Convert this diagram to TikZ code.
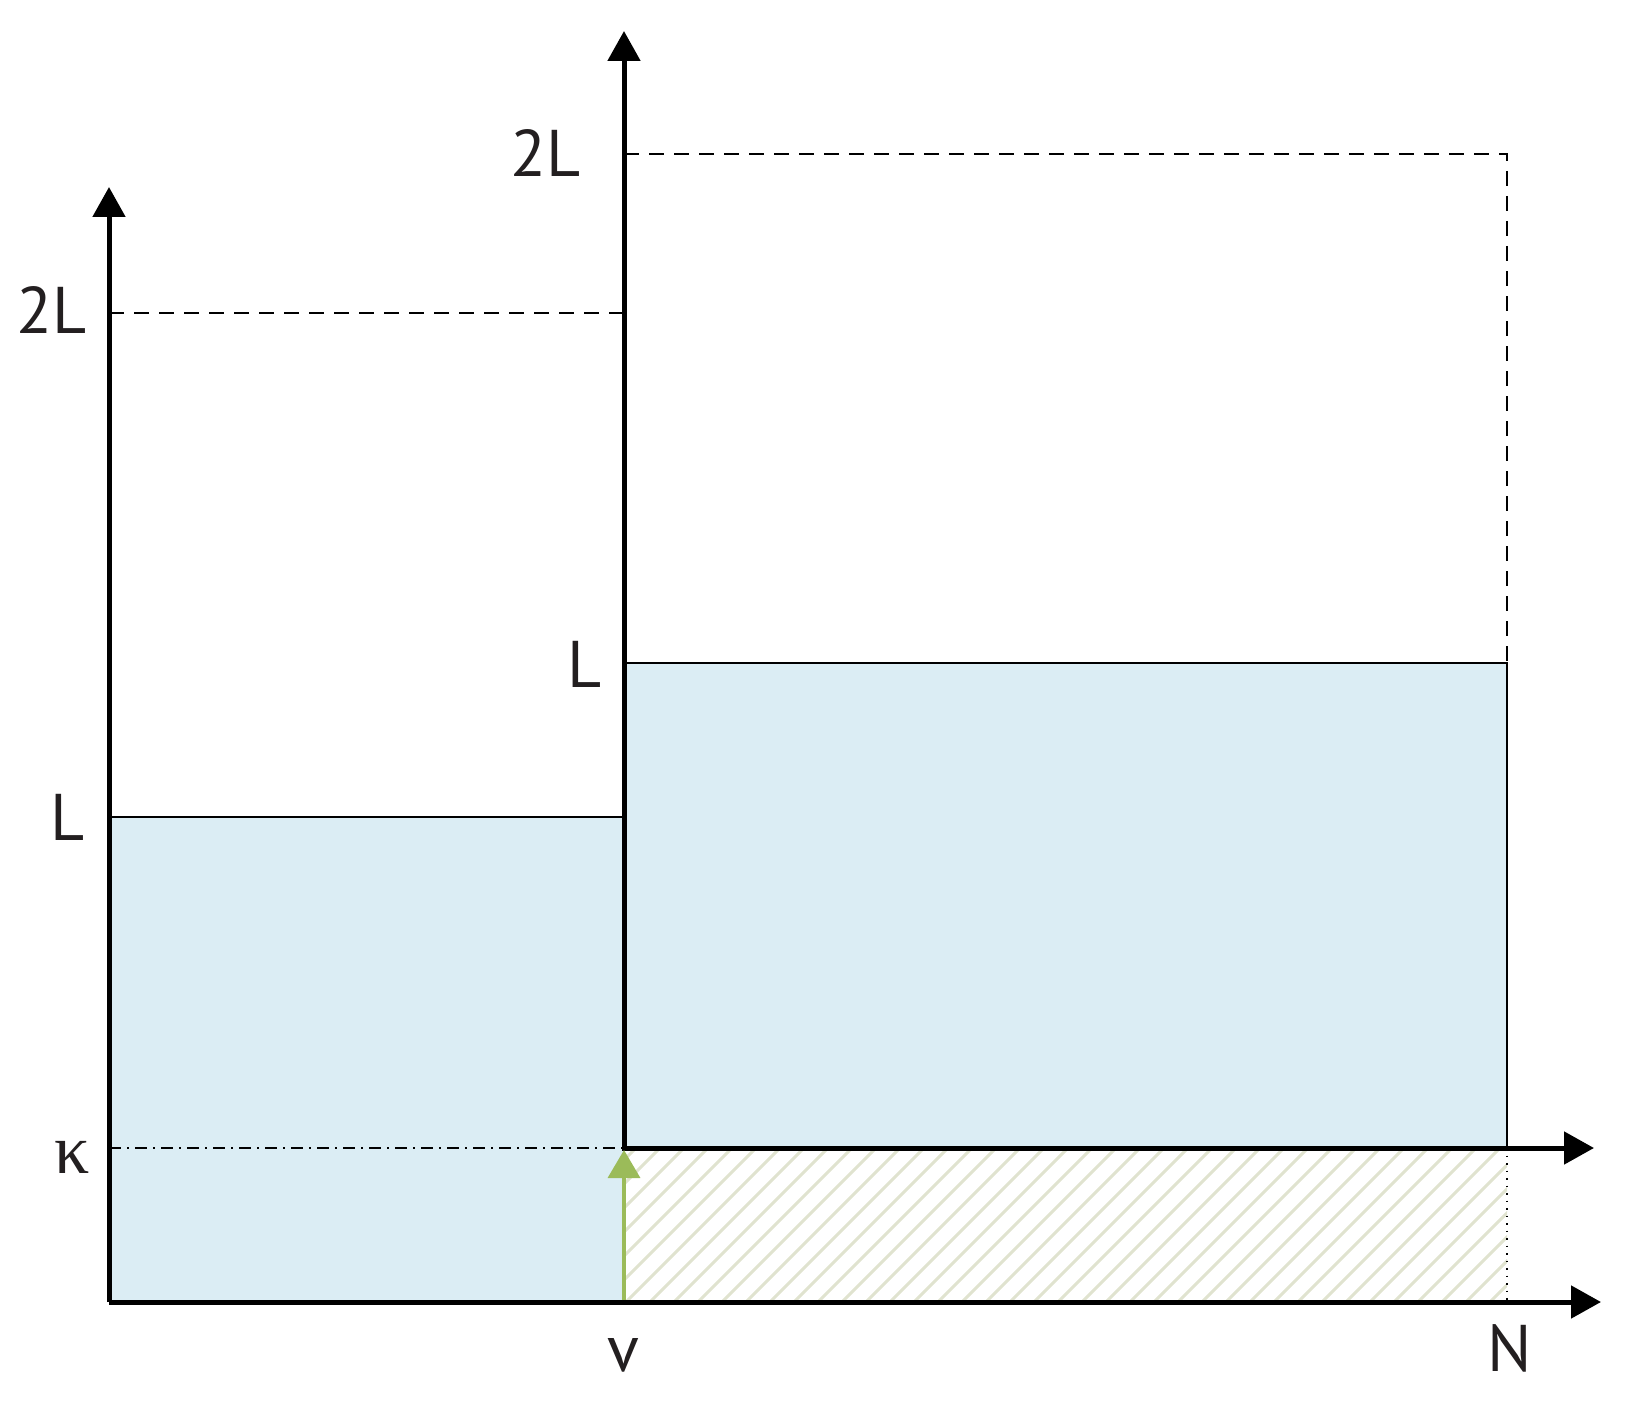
\documentclass[tikz,border=0pt]{standalone}
\usepackage{fontspec}
\setmainfont{PT Sans}
\newfontfamily\greekfont{Liberation Serif}
\usetikzlibrary{arrows.meta}
\definecolor{fillblue}{HTML}{DBEDF4}
\definecolor{hatchc}{HTML}{E0E3CF}
\definecolor{greenarr}{HTML}{9BBB59}
\definecolor{labelc}{HTML}{231F20}
\begin{document}
\begin{tikzpicture}[x=1pt,y=-1pt,
  axis/.style={line width=5pt, -{Triangle[length=30pt,width=32pt]}},
  thinline/.style={line width=1.5pt},
  dashline/.style={line width=1.3pt, dash pattern=on 15pt off 10pt},
  dashdotline/.style={line width=1.3pt, dash pattern=on 12pt off 6pt on 2pt off 6pt},
  dotline/.style={line width=1.5pt, dash pattern=on 1.5pt off 6pt},
  lbl/.style={font=\fontsize{66}{70}\selectfont, text=labelc, inner sep=0pt}]
\useasboundingbox (0,0) rectangle (1625,1407);
% key points
\coordinate (O) at (109,1302);
\coordinate (Ltop) at (109,187);
\coordinate (Xend) at (1601,1302);
\coordinate (V) at (624,1302);
\coordinate (K) at (624,1148);
\coordinate (Mtop) at (624,31);
\coordinate (Xend2) at (1594,1148);
\coordinate (Rk) at (1507,1148);
\coordinate (Rb) at (1507,1302);
% fills
\fill[fillblue] (109,817) rectangle (624,1302);
\fill[fillblue] (624,663) rectangle (1507,1148);
% hatch
\begin{scope}
  \clip (624,1148) rectangle (1507,1302);
  \foreach \i in {0,...,46} {
    \draw[hatchc, line width=3pt] (450+\i*24, 1310) -- ++(175,-175);
  }
\end{scope}
% thin lines
\coordinate (LL) at (109,817);
\coordinate (LR) at (624,817);
\draw[thinline] (LL) -- (LR);
\coordinate (RL) at (624,663);
\coordinate (RR) at (1507,663);
\draw[thinline] (RL) -- (RR) -- (Rk);
% dashed lines
\coordinate (L2a) at (109,313);
\coordinate (L2b) at (624,313);
\draw[dashline] (L2a) -- (L2b);
\coordinate (R2a) at (624,154);
\coordinate (R2b) at (1507,154);
\draw[dashline] (R2a) -- (R2b) -- (RR);
\coordinate (Ka) at (109,1148);
\draw[dashdotline] (Ka) -- (K);
\draw[dotline] (Rk) -- (Rb);
% axes
\draw[axis] (O) -- (Ltop);
\draw[axis] (O) -- (Xend);
\draw[line width=5pt, {Triangle[length=30pt,width=32pt]}-{Triangle[length=30pt,width=32pt]}, line join=miter] (Mtop) -- (K) -- (Xend2);
% green arrow
\draw[greenarr, line width=3.5pt, -{Triangle[length=28pt,width=32pt]}] (624,1300) -- (624,1150);
% labels
\node[lbl, anchor=base west] (l2L) at (16,333) {2L};
\node[lbl, anchor=base west] (lL) at (50,840) {L};
\node[lbl, anchor=base west, font=\greekfont\fontsize{70}{70}\selectfont] (lk) at (54,1173) {κ};
\node[lbl, anchor=base west] (r2L) at (510,177) {2L};
\node[lbl, anchor=base west] (rL) at (567,687) {L};
\node[lbl, anchor=base] (lv) at (623,1371) {v};
\node[lbl, anchor=base] (lN) at (1510,1371) {N};
\end{tikzpicture}
\end{document}
